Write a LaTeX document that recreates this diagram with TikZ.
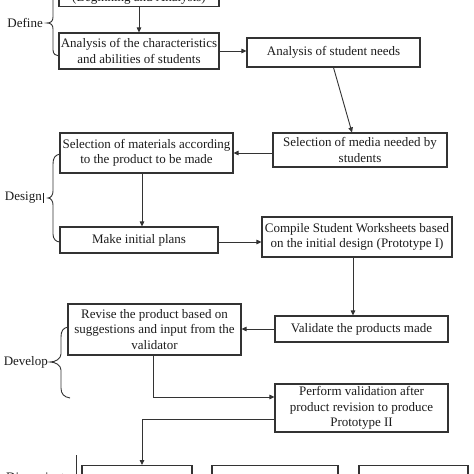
\documentclass[tikz,border=0pt]{standalone}
\usepackage{fontspec}
\setmainfont{Liberation Serif}
\usetikzlibrary{arrows.meta,calc}
\definecolor{linec}{HTML}{333333}
\definecolor{textc}{HTML}{1C1C1C}
\newcommand\myfs{\fontsize{13}{15.5}\selectfont}
\begin{document}
\begin{tikzpicture}[x=1pt,y=-1pt,
  box/.style={draw=linec, line width=1.1pt, rectangle, align=center, inner sep=0pt, font=\myfs, text=textc},
  lbl/.style={font=\myfs, text=textc, inner sep=0pt},
  arr/.style={draw=linec, line width=0.9pt, -{Triangle[length=5pt,width=4.5pt]}},
  brace/.style={draw=linec, line width=0.9pt}]
\useasboundingbox (0,0) rectangle (474,474);
\clip (0,0) rectangle (474,474);
\fill[white] (0,0) rectangle (474,474);

% Define stage
\node[box, minimum width=160pt, minimum height=40pt, anchor=south] (top) at (139,7) {};
\node[lbl, anchor=base] (toptext) at (139,1.5) {(Beginning and Analysis)};
\node[box, minimum width=160pt, minimum height=36pt] (a2) at (139,51) {Analysis of the characteristics\\and abilities of students};
\node[box, minimum width=173pt, minimum height=29pt] (a3) at (333.5,52.5) {Analysis of student needs};

% Design stage
\node[box, minimum width=174pt, minimum height=34pt] (m4) at (360,150) {Selection of media needed by\\students};
\node[box, minimum width=173pt, minimum height=40pt] (m5) at (146.5,153) {Selection of materials according\\to the product to be made};
\node[box, minimum width=158pt, minimum height=26pt] (p6) at (139,240) {Make initial plans};
\node[box, minimum width=190pt, minimum height=40pt] (c7) at (357,237) {Compile Student Worksheets based\\on the initial design (Prototype I)};

% Develop stage
\node[box, minimum width=173pt, minimum height=26pt] (v8) at (361.5,329) {Validate the products made};
\node[box, minimum width=173pt, minimum height=51pt] (r9) at (154.5,329.5) {Revise the product based on\\suggestions and input from the\\validator};
\node[box, minimum width=173pt, minimum height=48pt] (pv10) at (361.5,408) {Perform validation after\\product revision to produce\\Prototype II};

% Disseminate stage (cut off)
\node[box, minimum width=110pt, minimum height=50pt, anchor=north] (b11) at (137,465) {};
\node[box, minimum width=126pt, minimum height=50pt, anchor=north] (b12) at (275,465) {};
\node[box, minimum width=109pt, minimum height=50pt, anchor=north] (b13) at (413.5,465) {};

% Connectors
\draw[arr] (top) -- (a2);
\draw[arr] (a2.east) -- (a2.east -| a3.west);
\draw[arr] (a3.south) -- ([xshift=-8pt]m4.north);
\draw[arr] ([yshift=-3pt]m4.west) -- ([yshift=-3pt]m4.west -| m5.east);
\draw[arr] ([xshift=-4.5pt]m5.south) -- ([xshift=-4.5pt]m5.south |- p6.north);
\draw[arr] ([yshift=-2pt]p6.east) -- ([yshift=-2pt]p6.east -| c7.west);
\draw[arr] ([xshift=-4pt]c7.south) -- ([xshift=-4pt]c7.south |- v8.north);
\draw[arr] (v8.west) -- (v8.west -| r9.east);
\draw[arr] ([xshift=-1.5pt]r9.south) |- ([yshift=11pt]pv10.west);
\draw[arr] ([yshift=-11pt]pv10.west) -| ([xshift=5pt]b11.north);

% Stage labels and braces
\node[lbl, anchor=east] (ldef) at (43,23) {Define};
\draw[brace] (53,-5) -- (53,17) .. controls (53,21) and (51,23) .. (47,23)
  .. controls (51,23) and (53,25) .. (53,29) -- (53,50) .. controls (53,54) and (56,56) .. (59,56);

\node[lbl, anchor=east] (ldes) at (42,198) {Design};
\draw[textc, line width=1.6pt] (43.5,193) -- (43.5,203);
\draw[brace] (60,154) .. controls (55,155) and (53,158) .. (53,164) -- (53,191)
  .. controls (53,195) and (51,198) .. (48,198)
  .. controls (51,198) and (53,201) .. (53,205) -- (53,234) .. controls (53,239) and (56,242) .. (60,242);

\node[lbl, anchor=east] (ldev) at (48,362) {Develop};
\draw[brace] (68,327) .. controls (63,328) and (61,331) .. (61,337) -- (61,354)
  .. controls (61,359) and (55,362) .. (50,362)
  .. controls (55,362) and (61,365) .. (61,370) -- (61,388) .. controls (61,394) and (64,397) .. (70,398);

\node[lbl, anchor=base west] (ldis) at (6,481) {Disseminate};
\draw[brace] (76,455) -- (76,480);
\end{tikzpicture}
\end{document}
